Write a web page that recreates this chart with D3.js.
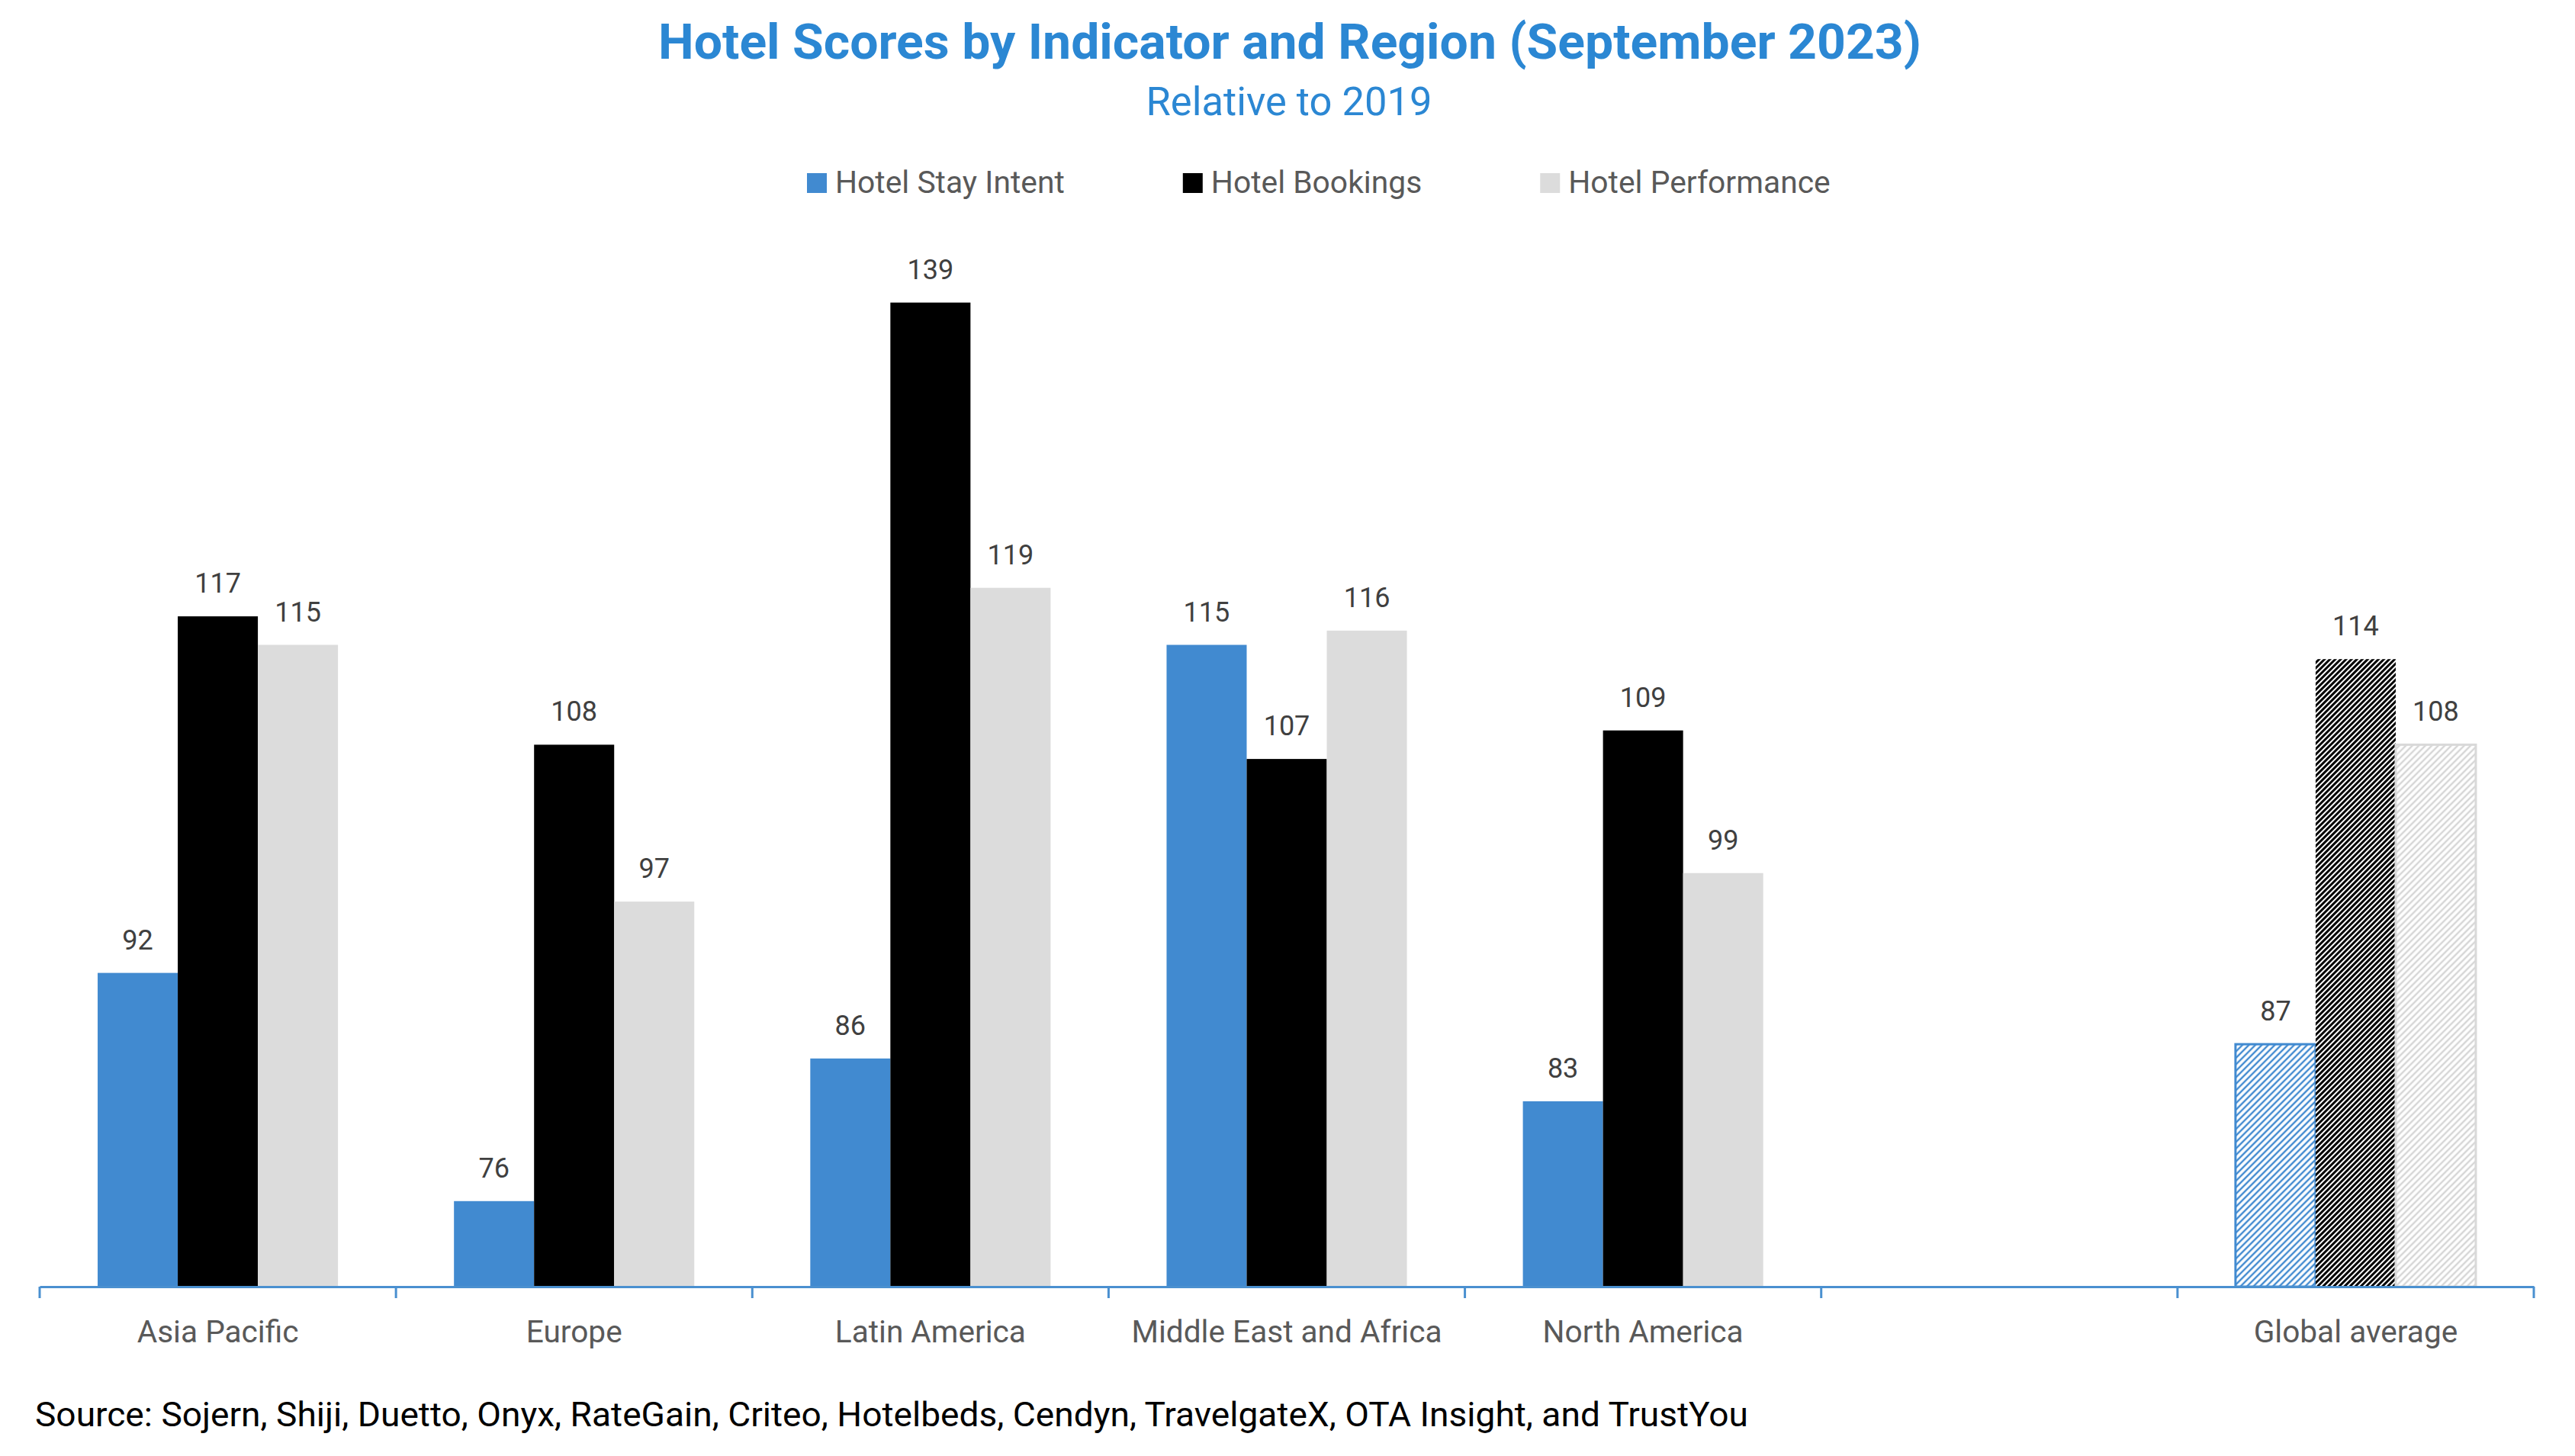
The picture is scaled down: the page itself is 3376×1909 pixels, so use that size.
<!DOCTYPE html>
<html>
<head>
  <meta charset="utf-8">
  <title>Hotel Scores by Indicator and Region</title>
  <script src="https://cdn.jsdelivr.net/npm/d3@7"></script>
  <style>
    body {margin: 0; background: #fff;}
    svg  {font-family: Roboto, "Noto Sans", sans-serif;}
  </style>
</head>
<body>
<svg id="chart" width="3376" height="1909"></svg>
<script>
// data
var categories = ["Asia Pacific", "Europe", "Latin America", "Middle East and Africa", "North America", "", "Global average"];
var seriesNames = ["Hotel Stay Intent", "Hotel Bookings", "Hotel Performance"];
var stayIntent  = [92, 76, 86, 115, 83, null, 87];
var bookings    = [117, 108, 139, 107, 109, null, 114];
var performance = [115, 97, 119, 116, 99, null, 108];
var seriesColors = ["#418AD0", "#000000", "#DCDCDC"];

var svg = d3.select("#chart");

// squeeze/stretch Roboto a bit so it looks like the original face
function condense(sel, k) {
  sel.each(function() {
    var w = this.getComputedTextLength();
    d3.select(this).attr("textLength", w * k).attr("lengthAdjust", "spacingAndGlyphs");
  });
}
function fitTo(sel, width) {
  sel.attr("textLength", width).attr("lengthAdjust", "spacingAndGlyphs");
}

// title + subtitle
svg.append("text").attr("x", 1691).attr("y", 77)
  .attr("text-anchor", "middle").attr("font-size", 64).attr("font-weight", 700)
  .attr("fill", "#2B87D3")
  .text("Hotel Scores by Indicator and Region (September 2023)")
  .call(fitTo, 1656);
svg.append("text").attr("x", 1690).attr("y", 151)
  .attr("text-anchor", "middle").attr("font-size", 51)
  .attr("fill", "#2B87D3")
  .text("Relative to 2019")
  .call(fitTo, 375);

// scales
var x0 = d3.scaleBand().domain(categories).range([52, 3322]).padding(0);
var x1 = d3.scaleBand().domain(seriesNames).range([0, x0.bandwidth()])
  .paddingInner(0).paddingOuter(0.724);
var y = d3.scaleLinear().domain([70, 140]).range([1687, 378]);

// hatch patterns for the global average group
var defs = svg.append("defs");
var hatch = [
  {color: "#418AD0", gap: 6.0, w: 2.4},
  {color: "#000000", gap: 5.0, w: 3.0},
  {color: "#D6D6D6", gap: 6.0, w: 2.4}
];
hatch.forEach(function(h, i) {
  var p = defs.append("pattern").attr("id", "hatch-" + i)
    .attr("patternUnits", "userSpaceOnUse")
    .attr("width", h.gap).attr("height", h.gap)
    .attr("patternTransform", "rotate(45)");
  p.append("rect").attr("width", h.gap).attr("height", h.gap).attr("fill", "#fff");
  p.append("line").attr("x1", h.gap / 2).attr("x2", h.gap / 2)
    .attr("y1", 0).attr("y2", h.gap)
    .attr("stroke", h.color).attr("stroke-width", h.w);
});

var rows = categories.map(function(c, i) {
  return {cat: c, vals: [stayIntent[i], bookings[i], performance[i]]};
});

var groups = svg.append("g").selectAll("g").data(rows).join("g")
  .attr("transform", function(d) { return "translate(" + x0(d.cat) + ",0)"; });

groups.selectAll("rect")
  .data(function(d) {
    return d.vals.map(function(v, j) { return {cat: d.cat, s: seriesNames[j], j: j, v: v}; })
      .filter(function(e) { return e.v != null; });
  })
  .join("rect")
  .attr("x", function(d) { return x1(d.s); })
  .attr("y", function(d) { return y(d.v); })
  .attr("width", x1.bandwidth())
  .attr("height", function(d) { return y(70) - y(d.v); })
  .attr("fill", function(d) {
    return d.cat === "Global average" ? "url(#hatch-" + d.j + ")" : seriesColors[d.j];
  })
  .attr("stroke", function(d) {
    if (d.cat !== "Global average" || d.j === 1) return "none";
    return d.j === 0 ? "#418AD0" : "#D9D9D9";
  })
  .attr("stroke-width", 3);

// value labels
groups.selectAll("text.val")
  .data(function(d) {
    return d.vals.map(function(v, j) { return {s: seriesNames[j], v: v}; })
      .filter(function(e) { return e.v != null; });
  })
  .join("text").attr("class", "val")
  .attr("x", function(d) { return x1(d.s) + x1.bandwidth() / 2; })
  .attr("y", function(d) { return y(d.v) - 31; })
  .attr("text-anchor", "middle").attr("font-size", 36).attr("fill", "#404040")
  .text(function(d) { return d.v; })
  .call(condense, 1.0);

// x axis: labels centred, ticks on the band edges
var axis = svg.append("g").attr("transform", "translate(0," + y(70) + ")")
  .call(d3.axisBottom(x0).tickSize(0).tickSizeOuter(0));
axis.select(".domain").attr("stroke", "#4A90D0").attr("stroke-width", 3);
axis.selectAll(".tick text")
  .attr("y", 73).attr("dy", 0)
  .attr("font-family", "Roboto, sans-serif").attr("font-size", 41).attr("fill", "#595959")
  .call(condense, 0.99);

var edges = categories.map(function(c) { return x0(c); }).concat([x0.range()[1]]);
axis.selectAll("line.edge").data(edges).join("line").attr("class", "edge")
  .attr("x1", function(d) { return d; }).attr("x2", function(d) { return d; })
  .attr("y1", 0).attr("y2", 15)
  .attr("stroke", "#4A90D0").attr("stroke-width", 3);

// legend
var lx = 1058;
seriesNames.forEach(function(name, i) {
  svg.append("rect").attr("x", lx).attr("y", 227).attr("width", 26).attr("height", 26)
    .attr("fill", seriesColors[i]);
  var t = svg.append("text").attr("x", lx + 37).attr("y", 253)
    .attr("font-size", 40).attr("fill", "#595959").text(name)
    .call(condense, 1.02);
  lx += 37 + (+t.attr("textLength")) + 155;
});

// source note
svg.append("text").attr("x", 46).attr("y", 1870)
  .attr("font-size", 45).attr("fill", "#000")
  .text("Source: Sojern, Shiji, Duetto, Onyx, RateGain, Criteo, Hotelbeds, Cendyn, TravelgateX, OTA Insight, and TrustYou")
  .call(fitTo, 2246);
</script>
</body>
</html>
